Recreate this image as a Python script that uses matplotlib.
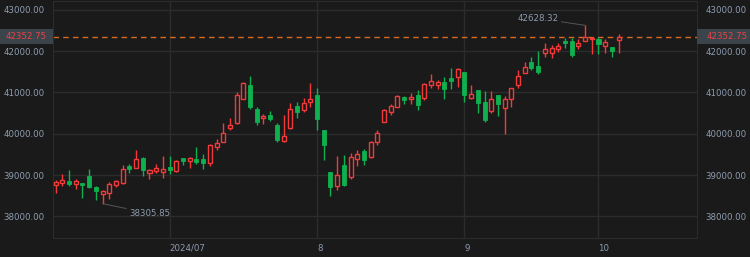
import numpy as np
import matplotlib
matplotlib.use("Agg")
import matplotlib.pyplot as plt
from matplotlib.patches import Rectangle
import matplotlib.transforms as mtransforms

# daily OHLC (2024-06 .. 2024-10)
opens = [38764, 38804, 38862, 38789, 38804, 38973, 38699, 38546, 38560, 38764,
         38804, 39209, 39178, 39404, 39056, 39095, 39071, 39185, 39095, 39404,
         39339, 39396, 39380, 39282, 39688, 39809, 40140, 40271, 40854, 41177,
         40611, 40383, 40449, 40222, 39824, 40149, 40675, 40577, 40781, 40935,
         40084, 39063, 38740, 39234, 38949, 39396, 39574, 39436, 39793, 40286,
         40530, 40650, 40894, 40837, 40935, 40870, 41185, 41185, 41258, 41348,
         41364, 41494, 40870, 41072, 40772, 40553, 40935, 40635, 40854, 41170,
         41477, 41744, 41639, 41963, 41963, 42052, 42254, 42254, 42125, 42254,
         42288, 42288, 42125, 42093, 42271]
highs = [38869, 39015, 39112, 38910, 38815, 39136, 38723, 38626, 38828, 38886,
         39234, 39258, 39598, 39436, 39153, 39258, 39460, 39452, 39372, 39420,
         39428, 39671, 39508, 39752, 39873, 40261, 40383, 41000, 41250, 41396,
         40650, 40473, 40546, 40261, 40449, 40757, 40772, 40862, 41226, 41105,
         40084, 39063, 39452, 39477, 39533, 39615, 39630, 39817, 40084, 40611,
         40732, 40935, 40910, 40990, 41056, 41234, 41445, 41300, 41364, 41583,
         41600, 41494, 41177, 41072, 41032, 41032, 40935, 40910, 41121, 41542,
         41744, 41865, 42011, 42190, 42149, 42205, 42312, 42312, 42288, 42628.32,
         42352, 42352, 42288, 42093, 42417]
lows = [38560, 38740, 38730, 38658, 38449, 38691, 38383, 38305.85, 38424, 38706,
        38789, 39056, 39161, 38973, 38893, 39056, 38934, 39032, 39071, 39234,
        39169, 39266, 39144, 39209, 39606, 39800, 40101, 40247, 40837, 40611,
        40222, 40230, 40303, 39800, 39800, 40125, 40392, 40529, 40650, 40101,
        39355, 38488, 38642, 38740, 38900, 39217, 39234, 39411, 39720, 40286,
        40449, 40650, 40733, 40716, 40570, 40830, 41097, 41080, 40854, 41073,
        41137, 40772, 40837, 40505, 40286, 40505, 40432, 40004, 40650, 41121,
        41477, 41542, 41445, 41851, 41826, 41987, 42069, 41865, 42045, 42254,
        41931, 41931, 41963, 41850, 41963]
closes = [38820, 38886, 38779, 38862, 38764, 38706, 38609, 38601, 38772, 38845,
          39153, 39136, 39396, 39112, 39129, 39178, 39136, 39112, 39339, 39339,
          39404, 39315, 39282, 39736, 39768, 40028, 40222, 40951, 41219, 40650,
          40286, 40432, 40351, 39841, 39955, 40611, 40529, 40757, 40854, 40351,
          39727, 38706, 38990, 38755, 39445, 39501, 39372, 39793, 40028, 40570,
          40667, 40910, 40813, 40886, 40692, 41202, 41267, 41258, 41080, 41275,
          41559, 40943, 40975, 40748, 40327, 40854, 40732, 40854, 41097, 41396,
          41622, 41598, 41501, 42045, 42069, 42125, 42190, 41906, 42205, 42336,
          42303, 42174, 42230, 42011, 42352.75]

month_pos = [17, 39, 61, 81]
month_labels = ["2024/07", "8", "9", "10"]
yticks = [38000, 39000, 40000, 41000, 42000, 43000]
last_price = 42352.75
hi_idx, lo_idx = 79, 7

bg = "#1a1a1a"
grid_c = "#2c2c2c"
txt_c = "#8e9db0"
up_c = "#f23a3a"
dn_c = "#0fb04f"

fig = plt.figure(figsize=(7.5, 2.57), dpi=100, facecolor=bg)
ax = fig.add_axes([53/750, 19/257, 644/750, 237/257], facecolor=bg)

x = np.arange(len(opens))
o = np.array(opens); h = np.array(highs); l = np.array(lows); c = np.array(closes)
up = c >= o
cols = np.where(up, up_c, dn_c)

ax.vlines(x, l, h, colors=cols, lw=1, zorder=3)
w = 0.6
bottoms = np.minimum(o, c)
heights = np.maximum(np.abs(c - o), 25)
ax.bar(x[up], heights[up], w, bottom=bottoms[up], facecolor=bg,
       edgecolor=up_c, linewidth=1, zorder=4)
ax.bar(x[~up], heights[~up], w, bottom=bottoms[~up], facecolor=dn_c,
       edgecolor=dn_c, linewidth=0.6, zorder=4)

ax.set_xlim(-0.4, 95.7)
ax.set_ylim(37473, 43218)

ax.set_yticks(yticks)
ax.set_yticklabels(["%.2f" % v for v in yticks])
ax.set_xticks(month_pos)
ax.set_xticklabels(month_labels, ha="left")
off = mtransforms.ScaledTranslation(2/100, 0, fig.dpi_scale_trans)
for lab in ax.get_xticklabels():
    lab.set_transform(lab.get_transform() + off)

ax.tick_params(axis="y", length=0, labelleft=True, labelright=True,
               colors=txt_c, labelsize=6.2, pad=6)
ax.tick_params(axis="x", length=0, colors=txt_c, labelsize=6.2, pad=4)
ax.grid(True, color=grid_c, lw=1)
ax.set_axisbelow(True)
for s in ax.spines.values():
    s.set_color(grid_c)

# current price line + labels
ax.axhline(last_price, color="#d9691f", lw=1, ls=(0, (4, 3)), zorder=2)
tr = mtransforms.blended_transform_factory(ax.transAxes, ax.transData)
bw = 53/644
bh = 15 * (43218 - 37473) / 237
for x0 in (-bw, 1.0):
    ax.add_patch(Rectangle((x0, last_price - bh/2), bw, bh, transform=tr,
                           facecolor="#3b434b", edgecolor="none", clip_on=False, zorder=5))
ax.text(-6/644, last_price, "%.2f" % last_price, transform=tr, ha="right", va="center",
        color="#e84545", fontsize=6.2, zorder=6)
ax.text(1 + 10/644, last_price, "%.2f" % last_price, transform=tr, ha="left", va="center",
        color="#e84545", fontsize=6.2, zorder=6)

# max / min annotations
ax.annotate("%.2f" % highs[hi_idx], xy=(hi_idx, highs[hi_idx]), xytext=(-19, 5),
            textcoords="offset points", ha="right", va="center", color=txt_c, fontsize=6.2,
            arrowprops=dict(arrowstyle="-", color="#555555", lw=0.7, shrinkA=0, shrinkB=0))
ax.annotate("%.2f" % lows[lo_idx], xy=(lo_idx, lows[lo_idx]), xytext=(19, -7),
            textcoords="offset points", ha="left", va="center", color=txt_c, fontsize=6.2,
            arrowprops=dict(arrowstyle="-", color="#555555", lw=0.7, shrinkA=0, shrinkB=0))

fig.savefig("out.png", dpi=100, facecolor=bg)
